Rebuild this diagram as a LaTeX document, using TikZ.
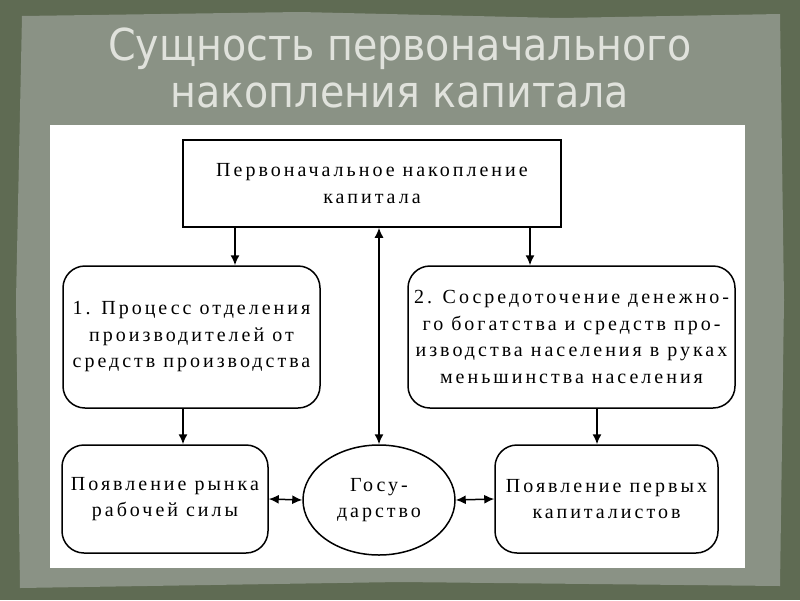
\documentclass[tikz,border=0pt]{standalone}
\usepackage{fontspec}
\setmainfont{Liberation Serif}
\newfontfamily\titlefont{DejaVu Sans Condensed}
\newfontfamily\boxfont[LetterSpace=15]{Liberation Serif}
\usetikzlibrary{arrows.meta,shapes.geometric}
\definecolor{frame}{HTML}{5F6B53}
\definecolor{paper}{HTML}{8A9285}
\definecolor{titletext}{HTML}{E0E2DC}
\tikzset{
  block/.style={draw=black, fill=white, line width=1.5pt, align=center,
                inner sep=0pt, font=\boxfont\fontsize{20}{26.5}\selectfont},
  roundblock/.style={block, rounded corners=22pt},
  arrow/.style={-{Latex[length=10pt,width=9pt]}, line width=1.5pt},
  twoway/.style={{Latex[length=10pt,width=9pt]}-{Latex[length=10pt,width=9pt]}, line width=1.5pt}
}
\begin{document}
\begin{tikzpicture}[x=1pt,y=-1pt]
  \useasboundingbox (0,0) rectangle (800,600);
  % background and slide
  \fill[frame] (0,0) rectangle (800,600);
  \fill[paper] (22,16) -- (300,12) -- (560,18) -- (780,14) -- (784,300) -- (780,586)
    -- (400,582) -- (20,588) -- (16,300) -- cycle;
  \fill[white] (50,125) rectangle (745,568);
  \node[font=\titlefont\fontsize{44}{47}\selectfont, text=titletext, align=center]
    (title) at (400,68) {Сущность первоначального\\накопления капитала};

  % boxes
  \node[block, minimum width=378pt, minimum height=87pt] (accum) at (372,183.5)
    {Первоначальное накопление\\капитала};
  \node[roundblock, minimum width=257pt, minimum height=142pt] (separation) at (191.5,337)
    {1. Процесс отделения\\производителей от\\средств производства};
  \node[roundblock, minimum width=327pt, minimum height=142pt] (concentration) at (571.5,337)
    {2. Сосредоточение денежно-\\го богатства и средств про-\\изводства населения в руках\\меньшинства населения};
  \node[roundblock, minimum width=206pt, minimum height=108pt] (market) at (165,499)
    {Появление рынка\\рабочей силы};
  \node[block, ellipse, minimum width=152pt, minimum height=110pt] (state) at (379,500)
    {Госу-\\дарство};
  \node[roundblock, minimum width=223pt, minimum height=108pt] (capitalists) at (606.5,499)
    {Появление первых\\капиталистов};

  % connectors
  \draw[arrow] (235,0 |- accum.south) -- (235,0 |- separation.north);
  \draw[arrow] (530,0 |- accum.south) -- (530,0 |- concentration.north);
  \draw[arrow] (183,0 |- separation.south) -- (183,0 |- market.north);
  \draw[arrow] (597,0 |- concentration.south) -- (597,0 |- capitalists.north);
  \draw[twoway] (379,0 |- accum.south) -- (state.north);
  \draw[twoway] (market.east) -- (state.west);
  \draw[twoway] (state.east) -- (capitalists.west);
\end{tikzpicture}
\end{document}
